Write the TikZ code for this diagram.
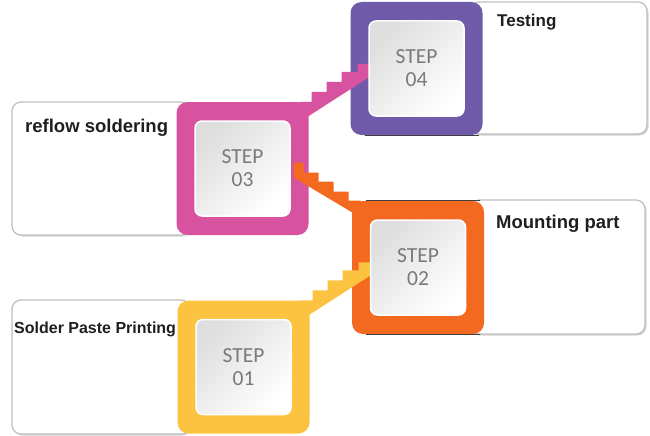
\documentclass[tikz,border=0pt]{standalone}
\usepackage{fontspec}
\setmainfont{Liberation Sans}
\newfontfamily\stepfont{Carlito}
\usetikzlibrary{shadows}
\definecolor{cyellow}{HTML}{FBC33F}
\definecolor{corange}{HTML}{F2691F}
\definecolor{cpink}{HTML}{D8539F}
\definecolor{cpurple}{HTML}{6F5BA9}
\tikzset{
  card/.style={draw=black!25,line width=1.2pt,fill=white,rounded corners=9pt,
    drop shadow={opacity=0.35,shadow xshift=1.5pt,shadow yshift=-1.5pt}},
  frame/.style={minimum width=132pt,minimum height=133pt,rounded corners=11pt,inner sep=0pt},
  stepbox/.style={minimum width=95pt,minimum height=95pt,rounded corners=7pt,draw=white,line width=1.5pt,
    top color=black!13,bottom color=white,shading angle=45,inner sep=0pt,align=center,
    text=black!52,font=\stepfont\fontsize{21.5}{23}\selectfont},
  label/.style={anchor=base west,inner sep=0pt,text=black!88,font=\bfseries}
}
\begin{document}
\begin{tikzpicture}[x=1pt,y=-1pt]
\useasboundingbox(0,0)rectangle(650,436);
% cards
\draw[card](470,2)rectangle(647,134);
\draw[card](12,102)rectangle(190,235);
\draw[card](470,200)rectangle(645,334);
\draw[card](12,300)rectangle(190,434);
% frames
\foreach \n/\c/\x/\y in {f1/cyellow/243.5/367,f2/corange/418/267.5,f3/cpink/242.5/168.5,f4/cpurple/416.5/68.5}
  {\node[frame,fill=\c](\n)at(\x,\y){};}
\foreach \a/\b in {f4.south/f4.south,f2.north/f2.south}{
  \draw[black!75,line width=1.2pt]([xshift=-52pt]\a)--([xshift=62pt]\a);
  \draw[black!75,line width=1.2pt]([xshift=-52pt]\b)--([xshift=62pt]\b);}
% stairs
\foreach \a/\c in {f1/cyellow,f3/cpink}{
  \fill[\c]([xshift=-9pt,yshift=-20pt]\a.north east)--++(70,-45)--++(0,-13)--++(-12,0)--++(0,8)
    --++(-16,0)--++(0,10)--++(-15,0)--++(0,10)--++(-15,0)--++(0,10)--++(-12,0)--cycle;}
\fill[corange]([xshift=-15pt,yshift=6pt]f3.east)--++(10,0)--++(0,10)--++(15,0)--++(0,9)--++(15,0)
  --++(0,10)--++(15,0)--++(0,9)--++(12,0)--++(0,17)--++(-67,-40)--cycle;
% steps
\foreach \n/\s in {f1/01,f2/02,f3/03,f4/04}{\node[stepbox](s\s)at(\n){STEP\\\s};}
% labels
\node[label,font=\bfseries\fontsize{17}{17}\selectfont](l4)at(497,27){Testing};
\node[label,font=\bfseries\fontsize{18.5}{18.5}\selectfont](l3)at(25,132){reflow soldering};
\node[label,font=\bfseries\fontsize{18.5}{18.5}\selectfont](l2)at(496,228){Mounting part};
\node[label,font=\bfseries\fontsize{16}{16}\selectfont](l1)at(14,333){Solder Paste Printing};
\end{tikzpicture}
\end{document}
